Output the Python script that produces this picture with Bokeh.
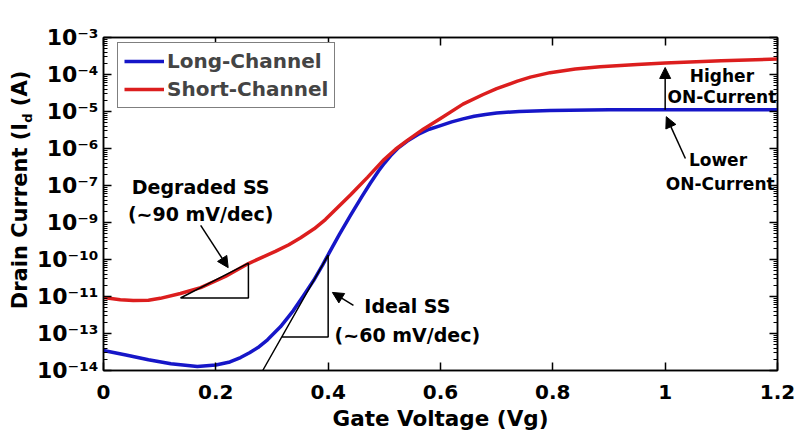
import math

from bokeh.embed import file_html
from bokeh.layouts import row
from bokeh.models import (Arrow, CustomJSTickFormatter, Div, FixedTicker,
                          Label, Legend, LegendItem, LinearAxis, NormalHead,
                          Range1d)
from bokeh.plotting import figure
from bokeh.resources import INLINE

# ---------------------------------------------------------------------------
# Transfer curves: gate voltage (V) against drain current, the current given
# as a position along the current axis (one unit per labelled division).
# ---------------------------------------------------------------------------
vg_long = [0.00, 0.04, 0.08, 0.12, 0.167, 0.20, 0.225, 0.244, 0.26, 0.275,
           0.292, 0.315, 0.338, 0.356, 0.374, 0.39, 0.404, 0.42, 0.44, 0.46,
           0.475, 0.49, 0.50, 0.511, 0.525, 0.541, 0.56, 0.58, 0.60, 0.62,
           0.64, 0.66, 0.68, 0.70, 0.74, 0.795, 0.90, 1.00, 1.20]
pos_long = [0.54, 0.42, 0.29, 0.18, 0.11, 0.15, 0.23, 0.35, 0.48, 0.62,
            0.83, 1.18, 1.62, 2.02, 2.43, 2.85, 3.24, 3.68, 4.20, 4.70,
            5.06, 5.40, 5.60, 5.80, 6.02, 6.20, 6.38, 6.52, 6.62, 6.72,
            6.80, 6.87, 6.92, 6.96, 7.00, 7.03, 7.05, 7.05, 7.05]

vg_short = [0.00, 0.03, 0.053, 0.08, 0.101, 0.137, 0.173, 0.217, 0.258,
            0.306, 0.33, 0.351, 0.375, 0.395, 0.415, 0.44, 0.47, 0.498,
            0.52, 0.541, 0.57, 0.60, 0.64, 0.676, 0.70, 0.737, 0.76, 0.795,
            0.84, 0.884, 0.95, 1.00, 1.10, 1.20]
pos_short = [1.97, 1.91, 1.89, 1.90, 1.95, 2.08, 2.24, 2.54, 2.89,
             3.22, 3.40, 3.59, 3.83, 4.08, 4.38, 4.75, 5.22, 5.68,
             5.98, 6.22, 6.53, 6.81, 7.20, 7.46, 7.62, 7.82, 7.93, 8.05,
             8.15, 8.21, 8.27, 8.31, 8.37, 8.42]

# Axis ticks
x_ticks = [0.0, 0.2, 0.4, 0.6, 0.8, 1.0, 1.2]
x_tick_labels = ["0", "0.2", "0.4", "0.6", "0.8", "1", "1.2"]
y_ticks = [0, 1, 2, 3, 4, 5, 6, 7, 8, 9]
y_tick_exponents = [-14, -13, -11, -10, -9, -7, -6, -5, -4, -3]

# Subthreshold-slope triangles
degraded_tri_x = [0.137, 0.258, 0.258, 0.137]
degraded_tri_y = [1.96, 1.96, 2.90, 1.96]
ideal_tri_x = [0.2835, 0.40, 0.40, 0.3173]
ideal_tri_y = [0.0, 3.12, 0.905, 0.905]

FONT = "DejaVu Sans"
BLUE = "#1616c8"
RED = "#dc1e1e"
TITLE_W = 34  # width of the strip holding the vertical axis title

SUP = str.maketrans("0123456789-", "⁰¹²³⁴⁵⁶⁷⁸⁹⁻")


def power_label(exp):
    return "10" + str(exp).translate(SUP)


p = figure(width=800 - TITLE_W, height=437, output_backend="svg",
           toolbar_location=None,
           x_range=Range1d(0, 1.2), y_range=Range1d(0, 9),
           min_border_left=103 - TITLE_W, min_border_right=23,
           min_border_top=37, min_border_bottom=67)
p.grid.visible = False
p.outline_line_color = "black"
p.outline_line_width = 1.5
p.background_fill_color = "white"
p.border_fill_color = "white"

log_minor = [i + math.log10(k) for i in y_ticks[:-1] for k in range(2, 10)]
y_ticker = FixedTicker(ticks=y_ticks, minor_ticks=log_minor)
x_ticker = FixedTicker(ticks=x_ticks, minor_ticks=[])
blank = CustomJSTickFormatter(code="return ''")


def style_axis(ax, show_labels):
    ax.axis_line_color = "black"
    ax.axis_line_width = 1.5
    ax.major_tick_line_color = "black"
    ax.major_tick_line_width = 1.5
    ax.minor_tick_line_color = "black"
    ax.minor_tick_line_width = 1
    ax.major_tick_in = 8
    ax.major_tick_out = 0
    ax.minor_tick_in = 4
    ax.minor_tick_out = 0
    ax.major_label_text_font = FONT
    ax.major_label_text_font_style = "bold"
    ax.major_label_text_color = "black"
    if not show_labels:
        ax.formatter = blank
        ax.major_label_standoff = 0


# bottom axis
xa = p.xaxis[0]
xa.ticker = x_ticker
style_axis(xa, True)
xa.major_label_overrides = dict(zip(x_ticks, x_tick_labels))
xa.major_label_text_font_size = "20px"
xa.major_label_standoff = 14
xa.axis_label = "Gate Voltage (Vg)"
xa.axis_label_text_font = FONT
xa.axis_label_text_font_style = "bold"
xa.axis_label_text_font_size = "21.5px"
xa.axis_label_text_color = "black"
xa.axis_label_standoff = 4

# left axis
ya = p.yaxis[0]
ya.ticker = y_ticker
style_axis(ya, True)
ya.major_label_overrides = {t: power_label(e) for t, e in zip(y_ticks, y_tick_exponents)}
ya.major_label_text_font_size = "22px"
ya.major_label_standoff = 5

# mirrored ticks on the top and right
top_axis = LinearAxis(ticker=x_ticker)
style_axis(top_axis, False)
p.add_layout(top_axis, "above")
right_axis = LinearAxis(ticker=y_ticker)
style_axis(right_axis, False)
p.add_layout(right_axis, "right")

# curves
r_long = p.line(vg_long, pos_long, line_color=BLUE, line_width=3.5,
                line_join="round")
r_short = p.line(vg_short, pos_short, line_color=RED, line_width=3.5,
                 line_join="round")

# slope triangles
p.line(degraded_tri_x, degraded_tri_y, line_color="black", line_width=1.5)
p.line(ideal_tri_x, ideal_tri_y, line_color="black", line_width=1.5)

legend = Legend(items=[LegendItem(label="Long-Channel", renderers=[r_long]),
                       LegendItem(label="Short-Channel", renderers=[r_short])],
                location=(14, 262), margin=0, padding=6, spacing=4,
                glyph_width=40, glyph_height=24, label_height=24,
                label_standoff=3, label_text_font=FONT,
                label_text_font_style="bold", label_text_font_size="20px",
                border_line_color="black", border_line_width=1.5,
                background_fill_color="white", background_fill_alpha=1)
p.add_layout(legend)


def note(x, y, text, size):
    p.add_layout(Label(x=x, y=y, text=text, text_font=FONT,
                       text_font_style="bold", text_font_size=size,
                       text_color="black", text_align="center",
                       text_baseline="middle"))


note(0.173, 4.97, "Degraded SS", "19px")
note(0.173, 4.24, "(~90 mV/dec)", "19px")
note(0.541, 1.73, "Ideal SS", "19px")
note(0.541, 0.97, "(~60 mV/dec)", "19px")
note(1.101, 7.97, "Higher", "17px")
note(1.101, 7.38, "ON-Current", "17px")
note(1.094, 5.68, "Lower", "17px")
note(1.098, 5.05, "ON-Current", "17px")


def arrow(x0, y0, x1, y1):
    p.add_layout(Arrow(x_start=x0, y_start=y0, x_end=x1, y_end=y1,
                       line_color="black", line_width=1.5,
                       end=NormalHead(size=11, fill_color="black",
                                      line_color="black", line_width=1)))


arrow(0.173, 3.92, 0.222, 2.78)
arrow(0.445, 1.76, 0.4075, 2.11)
arrow(1.0, 7.05, 1.0, 8.19)
arrow(1.036, 5.73, 1.002, 6.86)

# vertical axis title, with a subscripted "d"
ytitle = Div(
    width=TITLE_W, height=437, margin=0,
    text=(
        f'<div style="position:relative;width:{TITLE_W}px;height:437px;">'
        '<div style="position:absolute;left:22px;top:190px;'
        'transform:translate(-50%,-50%) rotate(-90deg);white-space:nowrap;'
        "font-family:'DejaVu Sans';font-weight:bold;font-size:21px;"
        'color:#000;line-height:1;">'
        'Drain Current (I<sub style="font-size:13px;">d</sub> (A)'
        '</div></div>'
    ),
)

layout = row(ytitle, p, spacing=0)

open("out.html", "w").write(file_html(layout, INLINE))
